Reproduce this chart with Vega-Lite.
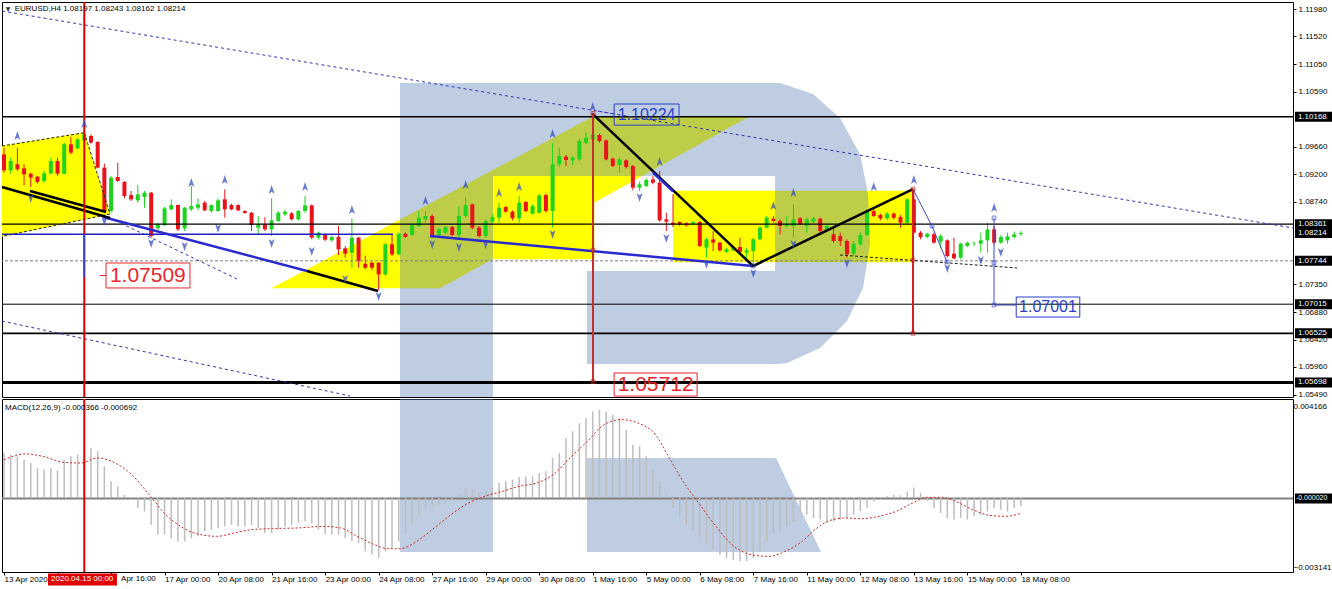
{
"$schema": "https://vega.github.io/schema/vega-lite/v6.json",
"background": "#ffffff",
"padding": {"left": 0, "top": 0, "right": 0, "bottom": 0},
"spacing": 2,
"bounds": "flush",
"config": {
  "view": {"stroke": "#000000", "strokeWidth": 1},
  "axis": {"labelFont": "Liberation Sans", "labelFontSize": 8, "labelColor": "#000000", "tickColor": "#000000", "domain": false, "grid": false},
  "text": {"font": "Liberation Sans"},
  "scale": {"continuousPadding": 0}
},
"datasets": {
  "candles": [
{"i":0,"o":1.09536,"h":1.09648,"l":1.09227,"c":1.09266},
{"i":1,"o":1.09266,"h":1.09479,"l":1.0921,"c":1.09423},
{"i":2,"o":1.09367,"h":1.09648,"l":1.09255,"c":1.09283},
{"i":3,"o":1.093,"h":1.09367,"l":1.0902,"c":1.09199},
{"i":4,"o":1.0921,"h":1.09227,"l":1.08986,"c":1.09143},
{"i":5,"o":1.0916,"h":1.09171,"l":1.09042,"c":1.0907},
{"i":6,"o":1.09087,"h":1.09255,"l":1.09059,"c":1.09216},
{"i":7,"o":1.09216,"h":1.09479,"l":1.09199,"c":1.09423},
{"i":8,"o":1.09423,"h":1.09479,"l":1.09171,"c":1.0921},
{"i":9,"o":1.0921,"h":1.09732,"l":1.09199,"c":1.09704},
{"i":10,"o":1.09704,"h":1.09827,"l":1.09536,"c":1.09564},
{"i":11,"o":1.09636,"h":1.09816,"l":1.0962,"c":1.09788},
{"i":12,"o":1.09771,"h":1.09917,"l":1.09732,"c":1.09872},
{"i":13,"o":1.09844,"h":1.09872,"l":1.09715,"c":1.09732},
{"i":14,"o":1.09743,"h":1.0976,"l":1.093,"c":1.09311},
{"i":15,"o":1.09311,"h":1.09379,"l":1.08571,"c":1.08582},
{"i":16,"o":1.08582,"h":1.09171,"l":1.08554,"c":1.09143},
{"i":17,"o":1.09154,"h":1.09395,"l":1.09076,"c":1.09087},
{"i":18,"o":1.0907,"h":1.09087,"l":1.08795,"c":1.08835},
{"i":19,"o":1.08851,"h":1.08919,"l":1.08751,"c":1.08779},
{"i":20,"o":1.08762,"h":1.0902,"l":1.08722,"c":1.08863},
{"i":21,"o":1.08818,"h":1.08919,"l":1.08638,"c":1.08891},
{"i":22,"o":1.08891,"h":1.08902,"l":1.08134,"c":1.08162},
{"i":23,"o":1.08291,"h":1.08386,"l":1.08257,"c":1.08358},
{"i":24,"o":1.08347,"h":1.0865,"l":1.0833,"c":1.08627},
{"i":25,"o":1.0861,"h":1.08779,"l":1.08594,"c":1.08683},
{"i":26,"o":1.08683,"h":1.08694,"l":1.08246,"c":1.08274},
{"i":27,"o":1.08291,"h":1.0865,"l":1.08246,"c":1.08638},
{"i":28,"o":1.0861,"h":1.09003,"l":1.08582,"c":1.08666},
{"i":29,"o":1.08638,"h":1.08795,"l":1.08594,"c":1.08694},
{"i":30,"o":1.08722,"h":1.08751,"l":1.08582,"c":1.08594},
{"i":31,"o":1.08582,"h":1.08694,"l":1.08554,"c":1.08683},
{"i":32,"o":1.08582,"h":1.08795,"l":1.08571,"c":1.08762},
{"i":33,"o":1.08779,"h":1.08947,"l":1.0847,"c":1.0861},
{"i":34,"o":1.08683,"h":1.08706,"l":1.08594,"c":1.0861},
{"i":35,"o":1.08683,"h":1.08694,"l":1.08582,"c":1.08594},
{"i":36,"o":1.08582,"h":1.08594,"l":1.08537,"c":1.08549},
{"i":37,"o":1.08554,"h":1.08566,"l":1.08246,"c":1.08347},
{"i":38,"o":1.08302,"h":1.08498,"l":1.0819,"c":1.08358},
{"i":39,"o":1.08358,"h":1.08481,"l":1.08246,"c":1.08274},
{"i":40,"o":1.08274,"h":1.08795,"l":1.08162,"c":1.08425},
{"i":41,"o":1.08414,"h":1.08582,"l":1.08397,"c":1.08554},
{"i":42,"o":1.08526,"h":1.08605,"l":1.08493,"c":1.08571},
{"i":43,"o":1.08543,"h":1.08566,"l":1.08425,"c":1.08442},
{"i":44,"o":1.08442,"h":1.08599,"l":1.08425,"c":1.08582},
{"i":45,"o":1.08582,"h":1.08835,"l":1.08554,"c":1.08678},
{"i":46,"o":1.08678,"h":1.08694,"l":1.08106,"c":1.08134},
{"i":47,"o":1.08134,"h":1.08235,"l":1.08106,"c":1.08218},
{"i":48,"o":1.08179,"h":1.08201,"l":1.08078,"c":1.081},
{"i":49,"o":1.08089,"h":1.08167,"l":1.08067,"c":1.08145},
{"i":50,"o":1.08145,"h":1.0833,"l":1.07842,"c":1.07937},
{"i":51,"o":1.07954,"h":1.07994,"l":1.07797,"c":1.07865},
{"i":52,"o":1.07881,"h":1.08459,"l":1.07629,"c":1.08134},
{"i":53,"o":1.08134,"h":1.08145,"l":1.07629,"c":1.07741},
{"i":54,"o":1.07696,"h":1.07831,"l":1.07601,"c":1.07629},
{"i":55,"o":1.07713,"h":1.0773,"l":1.07584,"c":1.07629},
{"i":56,"o":1.07713,"h":1.07713,"l":1.0725,"c":1.07517},
{"i":57,"o":1.07517,"h":1.0805,"l":1.07489,"c":1.08022},
{"i":58,"o":1.08022,"h":1.0819,"l":1.07825,"c":1.07853},
{"i":59,"o":1.07853,"h":1.08218,"l":1.07842,"c":1.08201},
{"i":60,"o":1.08201,"h":1.08218,"l":1.08134,"c":1.08145},
{"i":61,"o":1.08179,"h":1.08386,"l":1.08162,"c":1.08358},
{"i":62,"o":1.0833,"h":1.08582,"l":1.08313,"c":1.0847},
{"i":63,"o":1.08442,"h":1.08582,"l":1.08386,"c":1.08498},
{"i":64,"o":1.08498,"h":1.08526,"l":1.08134,"c":1.08162},
{"i":65,"o":1.08179,"h":1.08302,"l":1.08134,"c":1.08274},
{"i":66,"o":1.08218,"h":1.0833,"l":1.0819,"c":1.08313},
{"i":67,"o":1.08313,"h":1.0833,"l":1.08162,"c":1.08179},
{"i":68,"o":1.08179,"h":1.08666,"l":1.08106,"c":1.08498},
{"i":69,"o":1.08498,"h":1.08807,"l":1.0847,"c":1.08683},
{"i":70,"o":1.08694,"h":1.08706,"l":1.08274,"c":1.08302},
{"i":71,"o":1.08302,"h":1.0833,"l":1.08134,"c":1.08162},
{"i":72,"o":1.08162,"h":1.08442,"l":1.08134,"c":1.08414},
{"i":73,"o":1.08403,"h":1.08526,"l":1.08386,"c":1.08481},
{"i":74,"o":1.0847,"h":1.08722,"l":1.08386,"c":1.08638},
{"i":75,"o":1.0865,"h":1.08666,"l":1.08554,"c":1.08571},
{"i":76,"o":1.08571,"h":1.08594,"l":1.08425,"c":1.08459},
{"i":77,"o":1.08459,"h":1.08835,"l":1.08386,"c":1.08722},
{"i":78,"o":1.08734,"h":1.08751,"l":1.08565,"c":1.08582},
{"i":79,"o":1.08537,"h":1.08694,"l":1.08526,"c":1.08666},
{"i":80,"o":1.08554,"h":1.08863,"l":1.08537,"c":1.08846},
{"i":81,"o":1.08851,"h":1.08874,"l":1.08554,"c":1.08582},
{"i":82,"o":1.08582,"h":1.09732,"l":1.08302,"c":1.09367},
{"i":83,"o":1.09367,"h":1.09648,"l":1.09322,"c":1.09507},
{"i":84,"o":1.09496,"h":1.09524,"l":1.09339,"c":1.0944},
{"i":85,"o":1.09435,"h":1.09507,"l":1.09356,"c":1.09479},
{"i":86,"o":1.09451,"h":1.09788,"l":1.09423,"c":1.0976},
{"i":87,"o":1.09732,"h":1.099,"l":1.09704,"c":1.09816},
{"i":88,"o":1.09788,"h":1.10224,"l":1.0976,"c":1.09872},
{"i":89,"o":1.09861,"h":1.09883,"l":1.09732,"c":1.0976},
{"i":90,"o":1.09771,"h":1.09788,"l":1.09435,"c":1.09451},
{"i":91,"o":1.09463,"h":1.09479,"l":1.09322,"c":1.09339},
{"i":92,"o":1.09356,"h":1.09479,"l":1.09227,"c":1.09451},
{"i":93,"o":1.09435,"h":1.09451,"l":1.093,"c":1.09322},
{"i":94,"o":1.09339,"h":1.09356,"l":1.0893,"c":1.08975},
{"i":95,"o":1.08975,"h":1.09076,"l":1.08919,"c":1.09031},
{"i":96,"o":1.09003,"h":1.09132,"l":1.08986,"c":1.09104},
{"i":97,"o":1.09115,"h":1.09171,"l":1.09031,"c":1.09059},
{"i":98,"o":1.09059,"h":1.09255,"l":1.08403,"c":1.08425},
{"i":99,"o":1.08442,"h":1.08554,"l":1.08246,"c":1.08403},
{"i":100,"o":1.08386,"h":1.08863,"l":1.08313,"c":1.08358},
{"i":101,"o":1.08397,"h":1.08414,"l":1.0833,"c":1.08358},
{"i":102,"o":1.08375,"h":1.08392,"l":1.08324,"c":1.08341},
{"i":103,"o":1.08369,"h":1.08414,"l":1.08347,"c":1.08397},
{"i":104,"o":1.08397,"h":1.08414,"l":1.07977,"c":1.07994},
{"i":105,"o":1.07966,"h":1.08134,"l":1.07797,"c":1.08106},
{"i":106,"o":1.08106,"h":1.08246,"l":1.07909,"c":1.0805},
{"i":107,"o":1.0805,"h":1.08066,"l":1.07898,"c":1.07921},
{"i":108,"o":1.07898,"h":1.07966,"l":1.07876,"c":1.07938},
{"i":109,"o":1.07921,"h":1.07994,"l":1.07898,"c":1.07977},
{"i":110,"o":1.07977,"h":1.08134,"l":1.07876,"c":1.07893},
{"i":111,"o":1.07881,"h":1.07966,"l":1.07797,"c":1.07921},
{"i":112,"o":1.07909,"h":1.08134,"l":1.0766,"c":1.08106},
{"i":113,"o":1.08106,"h":1.0833,"l":1.08089,"c":1.08302},
{"i":114,"o":1.08302,"h":1.08498,"l":1.08291,"c":1.0847},
{"i":115,"o":1.08453,"h":1.08498,"l":1.08386,"c":1.08414},
{"i":116,"o":1.08414,"h":1.08442,"l":1.0819,"c":1.0833},
{"i":117,"o":1.0833,"h":1.08498,"l":1.08302,"c":1.08358},
{"i":118,"o":1.0833,"h":1.08694,"l":1.08134,"c":1.08442},
{"i":119,"o":1.08459,"h":1.08481,"l":1.08347,"c":1.08369},
{"i":120,"o":1.0833,"h":1.0847,"l":1.08218,"c":1.08442},
{"i":121,"o":1.08403,"h":1.08481,"l":1.0838,"c":1.08459},
{"i":122,"o":1.08453,"h":1.0847,"l":1.0819,"c":1.08246},
{"i":123,"o":1.08257,"h":1.08358,"l":1.08235,"c":1.0833},
{"i":124,"o":1.0819,"h":1.0833,"l":1.0805,"c":1.08078},
{"i":125,"o":1.08162,"h":1.08218,"l":1.07994,"c":1.08078},
{"i":126,"o":1.08078,"h":1.08106,"l":1.07797,"c":1.07853},
{"i":127,"o":1.07865,"h":1.08078,"l":1.07825,"c":1.08033},
{"i":128,"o":1.08022,"h":1.08218,"l":1.07994,"c":1.08179},
{"i":129,"o":1.08179,"h":1.0861,"l":1.08162,"c":1.08594},
{"i":130,"o":1.08582,"h":1.08638,"l":1.08481,"c":1.08498},
{"i":131,"o":1.08515,"h":1.08538,"l":1.08425,"c":1.08459},
{"i":132,"o":1.08459,"h":1.08566,"l":1.08425,"c":1.08538},
{"i":133,"o":1.08538,"h":1.0856,"l":1.08437,"c":1.0847},
{"i":134,"o":1.08481,"h":1.08515,"l":1.08302,"c":1.08386},
{"i":135,"o":1.08386,"h":1.08807,"l":1.08358,"c":1.08779},
{"i":136,"o":1.08779,"h":1.08958,"l":1.08201,"c":1.08218},
{"i":137,"o":1.08218,"h":1.08246,"l":1.08106,"c":1.08145},
{"i":138,"o":1.08145,"h":1.08218,"l":1.08123,"c":1.08201},
{"i":139,"o":1.0819,"h":1.08218,"l":1.08033,"c":1.0805},
{"i":140,"o":1.08067,"h":1.0819,"l":1.07954,"c":1.08162},
{"i":141,"o":1.08089,"h":1.08106,"l":1.07797,"c":1.07825},
{"i":142,"o":1.07865,"h":1.08134,"l":1.07769,"c":1.07786},
{"i":143,"o":1.07797,"h":1.0805,"l":1.07769,"c":1.08033},
{"i":144,"o":1.07994,"h":1.08067,"l":1.07977,"c":1.0805},
{"i":145,"o":1.08033,"h":1.08067,"l":1.07994,"c":1.08039},
{"i":146,"o":1.08033,"h":1.08218,"l":1.07882,"c":1.08089},
{"i":147,"o":1.08089,"h":1.08386,"l":1.07882,"c":1.08274},
{"i":148,"o":1.08274,"h":1.0833,"l":1.08022,"c":1.0805},
{"i":149,"o":1.0805,"h":1.08179,"l":1.08033,"c":1.08145},
{"i":150,"o":1.08089,"h":1.08218,"l":1.08033,"c":1.08156},
{"i":151,"o":1.08145,"h":1.08235,"l":1.08123,"c":1.0819},
{"i":152,"o":1.08197,"h":1.08243,"l":1.08162,"c":1.08214}
  ]
},
"vconcat": [
{
  "width": 1291,
  "height": 395,
  "resolve": {"axis": {"x": "independent", "y": "independent"}},
  "layer": [
    {
      "data": {"values": [
        {"s":"a","o":0,"b":-0.3,"p":1.09676},{"s":"a","o":1,"b":12,"p":1.09899},{"s":"a","o":2,"b":15.85,"p":1.08532},{"s":"a","o":3,"b":-0.3,"p":1.08154},
        {"s":"b","o":0,"b":40.06,"p":1.07288},{"s":"b","o":1,"b":65.2,"p":1.07288},{"s":"b","o":2,"b":111.2,"p":1.10163},{"s":"b","o":3,"b":87.9,"p":1.10163},
        {"s":"c","o":0,"b":73.1,"p":1.09155},{"s":"c","o":1,"b":88.2,"p":1.09155},{"s":"c","o":2,"b":88.2,"p":1.07776},{"s":"c","o":3,"b":73.1,"p":1.07776},
        {"s":"d","o":0,"b":100.0,"p":1.0892},{"s":"d","o":1,"b":135.9,"p":1.0892},{"s":"d","o":2,"b":135.9,"p":1.07725},{"s":"d","o":3,"b":100.0,"p":1.07725}
      ]},
      "mark": {"type": "line", "fill": "#ffff00", "stroke": "#ffff00", "strokeWidth": 0.5},
      "encoding": {
        "x": {"field": "b", "type": "quantitative", "scale": {"domain": [-0.3, 192.67], "nice": false, "zero": false, "padding": 0}, "axis": null},
        "y": {"field": "p", "type": "quantitative", "scale": {"domain": [1.05454, 1.12098], "nice": false, "zero": false}, "axis": null},
        "detail": {"field": "s"},
        "order": {"field": "o", "type": "quantitative"}
      }
    },
    {
      "data": {"values": [
        {"o":0,"b":59.19,"p":1.10735},{"o":1,"b":116.0,"p":1.10735},{"o":2,"b":120.93,"p":1.1055},{"o":3,"b":124.96,"p":1.10147},
        {"o":4,"b":127.95,"p":1.09541},{"o":5,"b":129.15,"p":1.08868},{"o":6,"b":129.45,"p":1.08027},{"o":7,"b":128.4,"p":1.07287},
        {"o":8,"b":126.01,"p":1.06732},{"o":9,"b":121.97,"p":1.06278},{"o":10,"b":117.04,"p":1.06025},{"o":11,"b":116.0,"p":1.06009},
        {"o":12,"b":87.14,"p":1.06009},{"o":13,"b":87.14,"p":1.07573},{"o":14,"b":115.25,"p":1.07573},{"o":15,"b":115.25,"p":1.09171},
        {"o":16,"b":73.09,"p":1.09171},{"o":17,"b":73.09,"p":1.05454},{"o":18,"b":59.19,"p":1.05454}
      ]},
      "mark": {"type": "line", "fill": "#5d83b5", "fillOpacity": 0.4, "stroke": "#5d83b5", "strokeOpacity": 0, "strokeWidth": 0},
      "encoding": {
        "x": {"field": "b", "type": "quantitative", "scale": {"domain": [-0.3, 192.67], "nice": false, "zero": false, "padding": 0}, "axis": null},
        "y": {"field": "p", "type": "quantitative", "scale": {"domain": [1.05454, 1.12098], "nice": false, "zero": false}, "axis": null},
        "order": {"field": "o", "type": "quantitative"}
      }
    },
    {
      "data": {"name": "candles"},
      "mark": {"type": "rule", "strokeWidth": 1},
      "encoding": {
        "x": {"field": "i", "type": "quantitative", "scale": {"domain": [-0.3, 192.67], "nice": false, "zero": false, "padding": 0}, "axis": null},
        "y": {"field": "l", "type": "quantitative", "scale": {"domain": [1.05454, 1.12098], "nice": false, "zero": false},
              "axis": {"orient": "right", "title": null, "values": [1.1198,1.1152,1.1105,1.1059,1.0966,1.092,1.0874,1.0735,1.0688,1.0642,1.0596,1.0549], "format": ".5f", "tickSize": 3, "labelPadding": 2, "labelOverlap": false, "labelFlush": false, "labelBound": false}},
        "y2": {"field": "h"},
        "color": {"condition": {"test": "datum.c >= datum.o", "value": "#1ed41e"}, "value": "#e8141c"}
      }
    },
    {
      "data": {"name": "candles"},
      "mark": {"type": "bar", "size": 4},
      "encoding": {
        "x": {"field": "i", "type": "quantitative", "scale": {"domain": [-0.3, 192.67], "nice": false, "zero": false, "padding": 0}, "axis": null},
        "y": {"field": "o", "type": "quantitative", "scale": {"domain": [1.05454, 1.12098], "nice": false, "zero": false}, "axis": null},
        "y2": {"field": "c"},
        "color": {"condition": {"test": "datum.c >= datum.o", "value": "#1ed41e"}, "value": "#e8141c"}
      }
    },
    {
      "data": {"values": [{"p":1.10168,"w":1.5},{"p":1.08361,"w":1.2},{"p":1.07015,"w":1},{"p":1.06525,"w":1.8},{"p":1.05698,"w":3}]},
      "mark": {"type": "rule", "color": "#000000"},
      "encoding": {
        "y": {"field": "p", "type": "quantitative", "scale": {"domain": [1.05454, 1.12098], "nice": false, "zero": false}, "axis": null},
        "strokeWidth": {"field": "w", "type": "quantitative", "scale": null}
      }
    },
    {
      "data": {"values": [{"p":1.07744}]},
      "mark": {"type": "rule", "color": "#808080", "strokeDash": [3, 2], "strokeWidth": 1},
      "encoding": {
        "y": {"field": "p", "type": "quantitative", "scale": {"domain": [1.05454, 1.12098], "nice": false, "zero": false}, "axis": null}
      }
    },
    {
      "data": {"values": [
        {"b":-0.3,"b2":192.67,"p":1.11946,"p2":1.08297},
        {"b":-0.3,"b2":51.72,"p":1.06732,"p2":1.05471},
        {"b":15.84,"b2":34.83,"p":1.08465,"p2":1.07439},
        {"b":88.8,"b2":91.2,"p":1.10264,"p2":1.10214}
      ]},
      "mark": {"type": "rule", "color": "#3535b5", "strokeDash": [3, 3], "strokeWidth": 1},
      "encoding": {
        "x": {"field": "b", "type": "quantitative", "scale": {"domain": [-0.3, 192.67], "nice": false, "zero": false, "padding": 0}, "axis": null},
        "x2": {"field": "b2"},
        "y": {"field": "p", "type": "quantitative", "scale": {"domain": [1.05454, 1.12098], "nice": false, "zero": false}, "axis": null},
        "y2": {"field": "p2"}
      }
    },
    {
      "data": {"values": [
        {"b":124.96,"b2":151.42,"p":1.07842,"p2":1.07624},
        {"b":-0.3,"b2":12,"p":1.09676,"p2":1.09899},
        {"b":12,"b2":15.85,"p":1.09899,"p2":1.08532},
        {"b":15.85,"b2":-0.3,"p":1.08532,"p2":1.08154}
      ]},
      "mark": {"type": "rule", "color": "#222222", "strokeDash": [3, 2], "strokeWidth": 1},
      "encoding": {
        "x": {"field": "b", "type": "quantitative", "scale": {"domain": [-0.3, 192.67], "nice": false, "zero": false, "padding": 0}, "axis": null},
        "x2": {"field": "b2"},
        "y": {"field": "p", "type": "quantitative", "scale": {"domain": [1.05454, 1.12098], "nice": false, "zero": false}, "axis": null},
        "y2": {"field": "p2"}
      }
    },
    {
      "data": {"values": [
        {"b":-0.3,"b2":58.15,"p":1.0819,"p2":1.0819,"w":1.5,"c":"#2020c0"},
        {"b":14.8,"b2":45.29,"p":1.08482,"p2":1.07573,"w":2.5,"c":"#2a2ad0"},
        {"b":63.68,"b2":111.96,"p":1.08162,"p2":1.07657,"w":2.5,"c":"#2a2ad0"},
        {"b":-0.3,"b2":15.84,"p":1.08986,"p2":1.08465,"w":2.5,"c":"#000000"},
        {"b":3.89,"b2":15.25,"p":1.08919,"p2":1.08566,"w":2.5,"c":"#000000"},
        {"b":45.29,"b2":55.9,"p":1.07573,"p2":1.07237,"w":2.5,"c":"#000000"},
        {"b":87.89,"b2":111.96,"p":1.10224,"p2":1.07657,"w":2.5,"c":"#000000"},
        {"b":111.96,"b2":135.87,"p":1.07657,"p2":1.08952,"w":2.5,"c":"#000000"},
        {"b":97.0,"b2":100.0,"p":1.09228,"p2":1.08914,"w":2.5,"c":"#2a2ad0"},
        {"b":135.87,"b2":138.7,"p":1.08952,"p2":1.0833,"w":1,"c":"#3a4ac8"},
        {"b":138.7,"b2":140.96,"p":1.0833,"p2":1.07725,"w":1,"c":"#3a4ac8"},
        {"b":147.98,"b2":151.3,"p":1.07001,"p2":1.07001,"w":1,"c":"#3a4ac8"},
        {"b":14.3,"b2":15.25,"p":1.07497,"p2":1.07497,"w":1,"c":"#e8262b"}
      ]},
      "mark": {"type": "rule"},
      "encoding": {
        "x": {"field": "b", "type": "quantitative", "scale": {"domain": [-0.3, 192.67], "nice": false, "zero": false, "padding": 0}, "axis": null},
        "x2": {"field": "b2"},
        "y": {"field": "p", "type": "quantitative", "scale": {"domain": [1.05454, 1.12098], "nice": false, "zero": false}, "axis": null},
        "y2": {"field": "p2"},
        "color": {"field": "c", "type": "nominal", "scale": null},
        "strokeWidth": {"field": "w", "type": "quantitative", "scale": null}
      }
    },
    {
      "data": {"values": [{"b":12}]},
      "mark": {"type": "rule", "color": "#e00000", "strokeWidth": 2},
      "encoding": {
        "x": {"field": "b", "type": "quantitative", "scale": {"domain": [-0.3, 192.67], "nice": false, "zero": false, "padding": 0}, "axis": null}
      }
    },
    {
      "data": {"values": [
        {"b":12,"p":1.08195,"p2":1.07472,"c":"#3a3ac8","w":1.5},
        {"b":88.04,"p":1.10224,"p2":1.05712,"c":"#c43030","w":2},
        {"b":135.87,"p":1.08952,"p2":1.06525,"c":"#d42020","w":2},
        {"b":147.98,"p":1.08465,"p2":1.07001,"c":"#3a4ac8","w":1}
      ]},
      "mark": {"type": "rule"},
      "encoding": {
        "x": {"field": "b", "type": "quantitative", "scale": {"domain": [-0.3, 192.67], "nice": false, "zero": false, "padding": 0}, "axis": null},
        "y": {"field": "p", "type": "quantitative", "scale": {"domain": [1.05454, 1.12098], "nice": false, "zero": false}, "axis": null},
        "y2": {"field": "p2"},
        "color": {"field": "c", "type": "nominal", "scale": null},
        "strokeWidth": {"field": "w", "type": "quantitative", "scale": null}
      }
    },
    {
      "data": {"values": [
        {"b":2,"p":1.09844},{"b":12,"p":1.10046},{"b":28,"p":1.09053},{"b":33,"p":1.09104},
        {"b":40,"p":1.08936},{"b":45,"p":1.08986},{"b":52,"p":1.08599},{"b":63,"p":1.08751},
        {"b":69,"p":1.0902},{"b":74,"p":1.08885},{"b":77,"p":1.08986},{"b":82,"p":1.09878},
        {"b":88,"p":1.10332},{"b":98,"p":1.09407},{"b":115,"p":1.08666},{"b":118,"p":1.08885},
        {"b":130,"p":1.08986},{"b":136,"p":1.09104},{"b":148,"p":1.08633}
      ]},
      "mark": {"type": "point", "shape": "M0,-1L0.6,0.8L0,0.35L-0.6,0.8Z", "filled": true, "size": 100, "color": "#3a4fc0", "opacity": 0.75},
      "encoding": {
        "x": {"field": "b", "type": "quantitative", "scale": {"domain": [-0.3, 192.67], "nice": false, "zero": false, "padding": 0}, "axis": null},
        "y": {"field": "p", "type": "quantitative", "scale": {"domain": [1.05454, 1.12098], "nice": false, "zero": false}, "axis": null}
      }
    },
    {
      "data": {"values": [
        {"b":4,"p":1.08801},{"b":15,"p":1.08414},{"b":22,"p":1.08044},{"b":27,"p":1.07994},{"b":32,"p":1.08296},
        {"b":40,"p":1.08044},{"b":46,"p":1.0791},{"b":51,"p":1.07439},{"b":56,"p":1.07153},{"b":64,"p":1.08027},
        {"b":68,"p":1.07977},{"b":72,"p":1.08027},{"b":82,"p":1.08196},{"b":95,"p":1.08818},{"b":99,"p":1.08128},
        {"b":105,"p":1.07691},{"b":112,"p":1.0754},{"b":118,"p":1.08027},{"b":126,"p":1.07708},{"b":141,"p":1.07624},
        {"b":146,"p":1.07758},{"b":149,"p":1.07893}
      ]},
      "mark": {"type": "point", "shape": "M0,1L0.6,-0.8L0,-0.35L-0.6,-0.8Z", "filled": true, "size": 100, "color": "#3a4fc0", "opacity": 0.75},
      "encoding": {
        "x": {"field": "b", "type": "quantitative", "scale": {"domain": [-0.3, 192.67], "nice": false, "zero": false, "padding": 0}, "axis": null},
        "y": {"field": "p", "type": "quantitative", "scale": {"domain": [1.05454, 1.12098], "nice": false, "zero": false}, "axis": null}
      }
    },
    {
      "data": {"values": [
        {"b":88.04,"p":1.10224,"c":"#c02020"},{"b":88.04,"p":1.07926,"c":"#c02020"},{"b":88.04,"p":1.05712,"c":"#c02020"},
        {"b":135.87,"p":1.08952,"c":"#c02020"},{"b":135.87,"p":1.07758,"c":"#c02020"},{"b":135.87,"p":1.06525,"c":"#c02020"},
        {"b":147.98,"p":1.08465,"c":"#3a4ac8"},{"b":147.98,"p":1.07708,"c":"#3a4ac8"},{"b":147.98,"p":1.07001,"c":"#3a4ac8"},
        {"b":138.7,"p":1.0833,"c":"#3a4ac8"},{"b":140.96,"p":1.07725,"c":"#3a4ac8"},{"b":111.96,"p":1.07657,"c":"#3a4ac8"}
      ]},
      "mark": {"type": "point", "shape": "square", "filled": false, "size": 14, "strokeWidth": 1},
      "encoding": {
        "x": {"field": "b", "type": "quantitative", "scale": {"domain": [-0.3, 192.67], "nice": false, "zero": false, "padding": 0}, "axis": null},
        "y": {"field": "p", "type": "quantitative", "scale": {"domain": [1.05454, 1.12098], "nice": false, "zero": false}, "axis": null},
        "color": {"field": "c", "type": "nominal", "scale": null}
      }
    },
    {
      "data": {"values": [
        {"b":91.2,"b2":100.9,"p":1.10027,"p2":1.10382,"c":"#2b3fcf"},
        {"b":15.25,"b2":27.8,"p":1.07288,"p2":1.07708,"c":"#e8262b"},
        {"b":91.2,"b2":103.6,"p":1.0547,"p2":1.05858,"c":"#e8262b"},
        {"b":151.3,"b2":160.8,"p":1.06799,"p2":1.07136,"c":"#2b3fcf"}
      ]},
      "mark": {"type": "rect", "filled": false, "strokeWidth": 1},
      "encoding": {
        "x": {"field": "b", "type": "quantitative", "scale": {"domain": [-0.3, 192.67], "nice": false, "zero": false, "padding": 0}, "axis": null},
        "x2": {"field": "b2"},
        "y": {"field": "p", "type": "quantitative", "scale": {"domain": [1.05454, 1.12098], "nice": false, "zero": false}, "axis": null},
        "y2": {"field": "p2"},
        "color": {"field": "c", "type": "nominal", "scale": null}
      }
    },
    {
      "data": {"values": [
        {"b":96.05,"p":1.10205,"t":"1.10224","c":"#2b3fcf","fs":16},
        {"b":21.5,"p":1.07497,"t":"1.07509","c":"#e8262b","fs":21},
        {"b":97.4,"p":1.05664,"t":"1.05712","c":"#e8262b","fs":21},
        {"b":156.05,"p":1.06968,"t":"1.07001","c":"#2b3fcf","fs":16}
      ]},
      "mark": {"type": "text", "font": "Liberation Sans", "align": "center", "baseline": "middle"},
      "encoding": {
        "x": {"field": "b", "type": "quantitative", "scale": {"domain": [-0.3, 192.67], "nice": false, "zero": false, "padding": 0}, "axis": null},
        "y": {"field": "p", "type": "quantitative", "scale": {"domain": [1.05454, 1.12098], "nice": false, "zero": false}, "axis": null},
        "text": {"field": "t"},
        "color": {"field": "c", "type": "nominal", "scale": null},
        "size": {"field": "fs", "type": "quantitative", "scale": null}
      }
    },
    {
      "data": {"values": [
        {"b":192.97,"b2":198.5,"p":1.10084,"p2":1.10252},
        {"b":192.97,"b2":198.5,"p":1.08277,"p2":1.08445},
        {"b":192.97,"b2":198.5,"p":1.0813,"p2":1.08298},
        {"b":192.97,"b2":198.5,"p":1.0766,"p2":1.07828},
        {"b":192.97,"b2":198.5,"p":1.06931,"p2":1.07099},
        {"b":192.97,"b2":198.5,"p":1.06441,"p2":1.06609},
        {"b":192.97,"b2":198.5,"p":1.05614,"p2":1.05782}
      ]},
      "mark": {"type": "rect", "color": "#000000", "clip": false},
      "encoding": {
        "x": {"field": "b", "type": "quantitative", "scale": {"domain": [-0.3, 192.67], "nice": false, "zero": false, "padding": 0}, "axis": null},
        "x2": {"field": "b2"},
        "y": {"field": "p", "type": "quantitative", "scale": {"domain": [1.05454, 1.12098], "nice": false, "zero": false}, "axis": null},
        "y2": {"field": "p2"}
      }
    },
    {
      "data": {"values": [
        {"b":193.4,"p":1.10168,"t":"1.10168"},
        {"b":193.4,"p":1.08361,"t":"1.08361"},
        {"b":193.4,"p":1.08214,"t":"1.08214"},
        {"b":193.4,"p":1.07744,"t":"1.07744"},
        {"b":193.4,"p":1.07015,"t":"1.07015"},
        {"b":193.4,"p":1.06525,"t":"1.06525"},
        {"b":193.4,"p":1.05698,"t":"1.05698"}
      ]},
      "mark": {"type": "text", "color": "#ffffff", "align": "left", "baseline": "middle", "fontSize": 8, "clip": false},
      "encoding": {
        "x": {"field": "b", "type": "quantitative", "scale": {"domain": [-0.3, 192.67], "nice": false, "zero": false, "padding": 0}, "axis": null},
        "y": {"field": "p", "type": "quantitative", "scale": {"domain": [1.05454, 1.12098], "nice": false, "zero": false}, "axis": null},
        "text": {"field": "t"}
      }
    },
    {
      "data": {"values": [{"b":1.6,"p":1.1198,"t":"EURUSD,H4  1.08197 1.08243 1.08162 1.08214"}]},
      "mark": {"type": "text", "color": "#000000", "align": "left", "baseline": "middle", "fontSize": 8},
      "encoding": {
        "x": {"field": "b", "type": "quantitative", "scale": {"domain": [-0.3, 192.67], "nice": false, "zero": false, "padding": 0}, "axis": null},
        "y": {"field": "p", "type": "quantitative", "scale": {"domain": [1.05454, 1.12098], "nice": false, "zero": false}, "axis": null},
        "text": {"field": "t"}
      }
    },
    {
      "data": {"values": [{"b":0.6,"p":1.1198,"t":"▼"}]},
      "mark": {"type": "text", "color": "#333333", "align": "center", "baseline": "middle", "fontSize": 6, "font": "DejaVu Sans"},
      "encoding": {
        "x": {"field": "b", "type": "quantitative", "scale": {"domain": [-0.3, 192.67], "nice": false, "zero": false, "padding": 0}, "axis": null},
        "y": {"field": "p", "type": "quantitative", "scale": {"domain": [1.05454, 1.12098], "nice": false, "zero": false}, "axis": null},
        "text": {"field": "t"}
      }
    }
  ]
},
{
  "width": 1291,
  "height": 173,
  "resolve": {"axis": {"x": "independent", "y": "independent"}},
  "layer": [
    {
      "data": {"values": [
        {"s":"a","o":0,"b":59.19,"v":0.004495},{"s":"a","o":1,"b":73.09,"v":0.004495},{"s":"a","o":2,"b":73.09,"v":-0.00245},{"s":"a","o":3,"b":59.19,"v":-0.00245},
        {"s":"b","o":0,"b":87.14,"v":0.001816},{"s":"b","o":1,"b":115.4,"v":0.001816},{"s":"b","o":2,"b":122.12,"v":-0.00245},{"s":"b","o":3,"b":87.14,"v":-0.00245}
      ]},
      "mark": {"type": "line", "fill": "#5d83b5", "fillOpacity": 0.4, "stroke": "#5d83b5", "strokeOpacity": 0, "strokeWidth": 0},
      "encoding": {
        "x": {"field": "b", "type": "quantitative", "scale": {"domain": [-0.3, 192.67], "nice": false, "zero": false, "padding": 0}, "axis": null},
        "y": {"field": "v", "type": "quantitative", "scale": {"domain": [-0.00336, 0.004495], "nice": false, "zero": false}, "axis": null},
        "detail": {"field": "s"},
        "order": {"field": "o", "type": "quantitative"}
      }
    },
    {
      "data": {"values": [{"v":-0.00002}]},
      "mark": {"type": "rule", "color": "#808080", "strokeWidth": 2},
      "encoding": {
        "y": {"field": "v", "type": "quantitative", "scale": {"domain": [-0.00336, 0.004495], "nice": false, "zero": false}, "axis": null}
      }
    },
    {
      "data": {"values": [
{"i":0,"v":0.00204},{"i":1,"v":0.00197},{"i":2,"v":0.00189},{"i":3,"v":0.00174},{"i":4,"v":0.00159},{"i":5,"v":0.00136},{"i":6,"v":0.00129},{"i":7,"v":0.00136},{"i":8,"v":0.00124},{"i":9,"v":0.00174},
{"i":10,"v":0.00189},{"i":11,"v":0.00197},{"i":12,"v":0.00166},{"i":13,"v":0.00227},{"i":14,"v":0.00212},{"i":15,"v":0.00144},{"i":16,"v":0.00076},{"i":17,"v":0.00053},{"i":18,"v":0.00015},{"i":19,"v":-0.00002},
{"i":20,"v":-0.00045},{"i":21,"v":-0.00061},{"i":22,"v":-0.00121},{"i":23,"v":-0.00166},{"i":24,"v":-0.00166},{"i":25,"v":-0.00182},{"i":26,"v":-0.00197},{"i":27,"v":-0.00197},{"i":28,"v":-0.00182},{"i":29,"v":-0.00174},
{"i":30,"v":-0.00151},{"i":31,"v":-0.00144},{"i":32,"v":-0.00136},{"i":33,"v":-0.00129},{"i":34,"v":-0.00121},{"i":35,"v":-0.00129},{"i":36,"v":-0.00129},{"i":37,"v":-0.00121},{"i":38,"v":-0.00136},{"i":39,"v":-0.00159},
{"i":40,"v":-0.00159},{"i":41,"v":-0.00144},{"i":42,"v":-0.00129},{"i":43,"v":-0.00121},{"i":44,"v":-0.00113},{"i":45,"v":-0.00106},{"i":46,"v":-0.00113},{"i":47,"v":-0.00144},{"i":48,"v":-0.00166},{"i":49,"v":-0.00166},
{"i":50,"v":-0.00166},{"i":51,"v":-0.00182},{"i":52,"v":-0.00197},{"i":53,"v":-0.00204},{"i":54,"v":-0.00242},{"i":55,"v":-0.00257},{"i":56,"v":-0.00272},{"i":57,"v":-0.00242},{"i":58,"v":-0.00227},{"i":59,"v":-0.00197},
{"i":60,"v":-0.00159},{"i":61,"v":-0.00121},{"i":62,"v":-0.00076},{"i":63,"v":-0.00053},{"i":64,"v":-0.00038},{"i":65,"v":-0.0003},{"i":66,"v":-0.00023},{"i":67,"v":-0.00012},{"i":68,"v":0.00015},{"i":69,"v":0.00045},
{"i":70,"v":0.00038},{"i":71,"v":0.00023},{"i":72,"v":0.0003},{"i":73,"v":0.00045},{"i":74,"v":0.00068},{"i":75,"v":0.00076},{"i":76,"v":0.00083},{"i":77,"v":0.00094},{"i":78,"v":0.00098},{"i":79,"v":0.00098},
{"i":80,"v":0.00113},{"i":81,"v":0.00121},{"i":82,"v":0.00182},{"i":83,"v":0.00204},{"i":84,"v":0.00272},{"i":85,"v":0.00303},{"i":86,"v":0.0034},{"i":87,"v":0.00363},{"i":88,"v":0.00393},{"i":89,"v":0.00401},
{"i":90,"v":0.00393},{"i":91,"v":0.00378},{"i":92,"v":0.00363},{"i":93,"v":0.0031},{"i":94,"v":0.00242},{"i":95,"v":0.00235},{"i":96,"v":0.00189},{"i":97,"v":0.00129},{"i":98,"v":0.00076},{"i":99,"v":0.00015},
{"i":100,"v":-0.00045},{"i":101,"v":-0.00091},{"i":102,"v":-0.00121},{"i":103,"v":-0.00144},{"i":104,"v":-0.00182},{"i":105,"v":-0.00212},{"i":106,"v":-0.00235},{"i":107,"v":-0.00257},{"i":108,"v":-0.00272},{"i":109,"v":-0.0028},
{"i":110,"v":-0.00287},{"i":111,"v":-0.00287},{"i":112,"v":-0.00272},{"i":113,"v":-0.00242},{"i":114,"v":-0.00197},{"i":115,"v":-0.00166},{"i":116,"v":-0.00151},{"i":117,"v":-0.00129},{"i":118,"v":-0.00106},{"i":119,"v":-0.00061},
{"i":120,"v":-0.00076},{"i":121,"v":-0.00091},{"i":122,"v":-0.00098},{"i":123,"v":-0.00113},{"i":124,"v":-0.00106},{"i":125,"v":-0.00098},{"i":126,"v":-0.00091},{"i":127,"v":-0.00076},{"i":128,"v":-0.00061},{"i":129,"v":-0.00045},
{"i":130,"v":-0.00015},{"i":131,"v":-0.00002},{"i":132,"v":0.00008},{"i":133,"v":0.00015},{"i":134,"v":0.00012},{"i":135,"v":0.0003},{"i":136,"v":0.00048},{"i":137,"v":0.00023},{"i":138,"v":-0.00012},{"i":139,"v":-0.00045},
{"i":140,"v":-0.00068},{"i":141,"v":-0.00091},{"i":142,"v":-0.00098},{"i":143,"v":-0.00091},{"i":144,"v":-0.00098},{"i":145,"v":-0.00083},{"i":146,"v":-0.00076},{"i":147,"v":-0.00061},{"i":148,"v":-0.00045},{"i":149,"v":-0.00053},
{"i":150,"v":-0.00061},{"i":151,"v":-0.00045},{"i":152,"v":-0.000366}
      ]},
      "mark": {"type": "rule", "color": "#bdbdbd", "strokeWidth": 1.5},
      "encoding": {
        "x": {"field": "i", "type": "quantitative", "scale": {"domain": [-0.3, 192.67], "nice": false, "zero": false, "padding": 0},
              "axis": {"orient": "bottom", "title": null, "values": [0,8,16,24,32,40,48,56,64,72,80,88,96,104,112,120,128,136,144,152],
                       "labelExpr": "['13 Apr 2020','','','17 Apr 00:00','20 Apr 08:00','21 Apr 16:00','23 Apr 00:00','24 Apr 08:00','27 Apr 16:00','29 Apr 00:00','30 Apr 08:00','1 May 16:00','5 May 00:00','6 May 08:00','7 May 16:00','11 May 00:00','12 May 08:00','13 May 16:00','15 May 00:00','18 May 08:00'][round(datum.value/8)]",
                       "labelAlign": "left", "labelBaseline": "top", "labelPadding": 0, "labelOffset": 0, "tickSize": 3, "labelOverlap": false, "labelFlush": false, "labelBound": false}},
        "y": {"field": "v", "type": "quantitative", "scale": {"domain": [-0.00336, 0.004495], "nice": false, "zero": false},
              "axis": {"orient": "right", "title": null, "values": [0.004166, -0.003141], "format": ".6f", "ticks": false, "labelPadding": 0, "labelOverlap": false, "labelFlush": false, "labelBound": false}},
        "y2": {"datum": 0}
      }
    },
    {
      "data": {"values": [
{"b":0,"s":0.00174},{"b":3.2,"s":0.002},{"b":5.8,"s":0.00189},{"b":8.9,"s":0.00162},{"b":11.5,"s":0.00159},{"b":14.0,"s":0.00182},{"b":16.6,"s":0.00159},{"b":19.1,"s":0.00106},{"b":21.7,"s":0.00015},{"b":24.2,"s":-0.00076},
{"b":26.8,"s":-0.00136},{"b":29.3,"s":-0.00166},{"b":31.8,"s":-0.00174},{"b":34.4,"s":-0.00159},{"b":36.9,"s":-0.00144},{"b":40.1,"s":-0.00139},{"b":43.9,"s":-0.00136},{"b":47.7,"s":-0.00129},{"b":50.3,"s":-0.00136},{"b":52.8,"s":-0.00174},
{"b":55.4,"s":-0.00212},{"b":57.3,"s":-0.0023},{"b":59.2,"s":-0.0023},{"b":61.7,"s":-0.00197},{"b":64.3,"s":-0.00136},{"b":66.8,"s":-0.00076},{"b":69.4,"s":-0.00023},{"b":71.9,"s":0.00008},{"b":74.5,"s":0.0003},{"b":77.0,"s":0.00053},
{"b":79.6,"s":0.00068},{"b":82.1,"s":0.00106},{"b":84.6,"s":0.00182},{"b":87.2,"s":0.00257},{"b":89.7,"s":0.00333},{"b":92.3,"s":0.00356},{"b":94.8,"s":0.0034},{"b":97.4,"s":0.00287},{"b":99.3,"s":0.00189},{"b":101.5,"s":0.00076},
{"b":104.0,"s":-0.0003},{"b":106.6,"s":-0.00136},{"b":109.1,"s":-0.00219},{"b":111.7,"s":-0.00257},{"b":114.2,"s":-0.00265},{"b":116.8,"s":-0.00242},{"b":119.3,"s":-0.00197},{"b":121.2,"s":-0.00144},{"b":123.1,"s":-0.00106},{"b":125.7,"s":-0.00091},
{"b":128.2,"s":-0.00094},{"b":130.8,"s":-0.00083},{"b":133.3,"s":-0.00061},{"b":135.8,"s":-0.00023},{"b":137.8,"s":0.00003},{"b":140.3,"s":0.00003},{"b":142.2,"s":-0.00015},{"b":144.8,"s":-0.00053},{"b":147.3,"s":-0.00079},{"b":149.8,"s":-0.00083},
{"b":152,"s":-0.000692}
      ]},
      "mark": {"type": "line", "color": "#d02828", "strokeWidth": 1, "strokeDash": [2, 2], "interpolate": "monotone"},
      "encoding": {
        "x": {"field": "b", "type": "quantitative", "scale": {"domain": [-0.3, 192.67], "nice": false, "zero": false, "padding": 0}, "axis": null},
        "y": {"field": "s", "type": "quantitative", "scale": {"domain": [-0.00336, 0.004495], "nice": false, "zero": false}, "axis": null}
      }
    },
    {
      "data": {"values": [{"b":12}]},
      "mark": {"type": "rule", "color": "#e00000", "strokeWidth": 2},
      "encoding": {
        "x": {"field": "b", "type": "quantitative", "scale": {"domain": [-0.3, 192.67], "nice": false, "zero": false, "padding": 0}, "axis": null}
      }
    },
    {
      "data": {"values": [{"b":0.15,"v":0.004086,"t":"MACD(12,26,9) -0.000366 -0.000692"}]},
      "mark": {"type": "text", "color": "#000000", "align": "left", "baseline": "middle", "fontSize": 8},
      "encoding": {
        "x": {"field": "b", "type": "quantitative", "scale": {"domain": [-0.3, 192.67], "nice": false, "zero": false, "padding": 0}, "axis": null},
        "y": {"field": "v", "type": "quantitative", "scale": {"domain": [-0.00336, 0.004495], "nice": false, "zero": false}, "axis": null},
        "text": {"field": "t"}
      }
    },
    {
      "data": {"values": [
        {"b":192.97,"b2":198.5,"v":-0.000247,"v2":0.000207,"c":"#000000"},
        {"b":6.58,"b2":16.89,"v":-0.003428,"v2":-0.003973,"c":"#e00000"}
      ]},
      "mark": {"type": "rect", "clip": false},
      "encoding": {
        "x": {"field": "b", "type": "quantitative", "scale": {"domain": [-0.3, 192.67], "nice": false, "zero": false, "padding": 0}, "axis": null},
        "x2": {"field": "b2"},
        "y": {"field": "v", "type": "quantitative", "scale": {"domain": [-0.00336, 0.004495], "nice": false, "zero": false}, "axis": null},
        "y2": {"field": "v2"},
        "color": {"field": "c", "type": "nominal", "scale": null}
      }
    },
    {
      "data": {"values": [
        {"b":193.1,"v":-0.00002,"t":"-0.000020","fs":7,"c":"#ffffff"},
        {"b":7.03,"v":-0.0037,"t":"2020.04.15 00:00","fs":8,"c":"#ffffff"},
        {"b":17.5,"v":-0.0037,"t":"Apr 16:00","fs":8,"c":"#000000"}
      ]},
      "mark": {"type": "text", "align": "left", "baseline": "middle", "clip": false},
      "encoding": {
        "x": {"field": "b", "type": "quantitative", "scale": {"domain": [-0.3, 192.67], "nice": false, "zero": false, "padding": 0}, "axis": null},
        "y": {"field": "v", "type": "quantitative", "scale": {"domain": [-0.00336, 0.004495], "nice": false, "zero": false}, "axis": null},
        "text": {"field": "t"},
        "color": {"field": "c", "type": "nominal", "scale": null},
        "size": {"field": "fs", "type": "quantitative", "scale": null}
      }
    }
  ]
}
]
}
